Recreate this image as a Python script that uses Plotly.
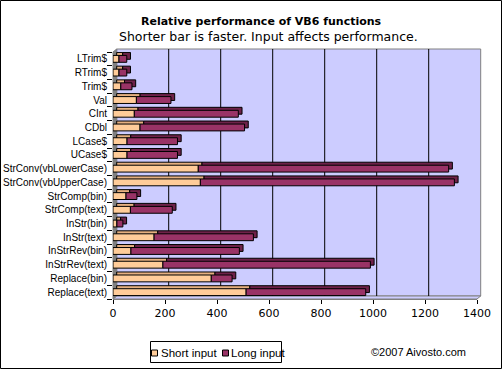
import plotly.graph_objects as go

# ---------------- data ----------------
categories = ["LTrim$", "RTrim$", "Trim$", "Val", "CInt", "CDbl", "LCase$", "UCase$",
              "StrConv(vbLowerCase)", "StrConv(vbUpperCase)", "StrComp(bin)", "StrComp(text)",
              "InStr(bin)", "InStr(text)", "InStrRev(bin)", "InStrRev(text)",
              "Replace(bin)", "Replace(text)"]
short_input = [23, 23, 30, 90, 82, 104, 54, 54, 328, 336, 50, 67, 15, 158, 69, 192, 378, 512]
long_input = [30, 30, 43, 133, 400, 402, 194, 194, 963, 977, 42, 161, 23, 382, 417, 798, 80, 460]
x_ticks = [0, 200, 400, 600, 800, 1000, 1200, 1400]

title_text = "<b>Relative performance of VB6 functions</b>"
subtitle_text = "Shorter bar is faster. Input affects performance."
series_names = ["Short input", "Long input"]
credit_text = "©2007 Aivosto.com"

# ---------------- style ----------------
W, H = 502, 369
PL, PR, PT, PB = 113, 477, 52, 299          # front plot area in pixels
DEPTH_X, DEPTH_Y = 3.7, 3.0                  # 3-D depth offset in pixels
SHORT_C, LONG_C = "#FFCC99", "#993366"
SHORT_D, LONG_D = "#E6B080", "#6E2249"
WALL_C, SIDE_C, EDGE_C = "#CCCCFF", "#808080", "#808080"
LABEL_FONT = "Liberation Sans, Arial, sans-serif"
XMAX = x_ticks[-1]
N = len(categories)

def px2paper_x(p):
    return (p - PL) / (PR - PL)

def px2paper_y(p):
    return (PB - p) / (PB - PT)

def data2px_x(v):
    return PL + v / XMAX * (PR - PL)

dx_data = DEPTH_X / (PR - PL) * XMAX
dy_cat = DEPTH_Y / ((PB - PT) / N)

idx = list(range(N))

fig = go.Figure()
line_black = dict(color="black", width=1)

# depth (top / end faces)
fig.add_trace(go.Bar(y=[i - dy_cat for i in idx], x=short_input, base=[dx_data] * N,
                     orientation="h", width=0.5, marker=dict(color=SHORT_D, line=line_black),
                     showlegend=False, hoverinfo="skip"))
fig.add_trace(go.Bar(y=[i - dy_cat for i in idx], x=long_input,
                     base=[s + dx_data for s in short_input],
                     orientation="h", width=0.5, marker=dict(color=LONG_D, line=line_black),
                     showlegend=False, hoverinfo="skip"))
# front faces
fig.add_trace(go.Bar(y=idx, x=short_input, base=[0] * N, orientation="h", width=0.5,
                     name=series_names[0], marker=dict(color=SHORT_C, line=line_black),
                     showlegend=False))
fig.add_trace(go.Bar(y=idx, x=long_input, base=short_input, orientation="h", width=0.5,
                     name=series_names[1], marker=dict(color=LONG_C, line=line_black),
                     showlegend=False))

shapes = []
wall_top, wall_bot = PT - DEPTH_Y, PB - DEPTH_Y
wall_l, wall_r = PL + DEPTH_X, PR + DEPTH_X
# back wall
shapes.append(dict(type="rect", xref="paper", yref="paper", layer="below",
                   x0=px2paper_x(wall_l), x1=px2paper_x(wall_r),
                   y0=px2paper_y(wall_bot), y1=px2paper_y(wall_top),
                   fillcolor=WALL_C, line=dict(color=EDGE_C, width=1)))
# floor
def path(pts):
    return "M " + " L ".join(f"{px2paper_x(a):.5f},{px2paper_y(b):.5f}" for a, b in pts) + " Z"
shapes.append(dict(type="path", xref="paper", yref="paper", layer="below",
                   path=path([(PL, PB), (wall_l, wall_bot), (wall_r, wall_bot), (PR, PB)]),
                   fillcolor=WALL_C, line=dict(color=EDGE_C, width=1)))
# left side wall
shapes.append(dict(type="path", xref="paper", yref="paper", layer="below",
                   path=path([(PL, PB), (PL, PT), (wall_l, wall_top), (wall_l, wall_bot)]),
                   fillcolor=SIDE_C, line=dict(color=SIDE_C, width=1)))
# gridlines on back wall
for v in x_ticks[1:-1]:
    xp = px2paper_x(data2px_x(v) + DEPTH_X)
    shapes.append(dict(type="line", xref="paper", yref="paper", layer="below",
                       x0=xp, x1=xp, y0=px2paper_y(wall_bot), y1=px2paper_y(wall_top),
                       line=dict(color="black", width=1)))
# outer chart border
shapes.append(dict(type="rect", xref="paper", yref="paper",
                   x0=px2paper_x(0.5), x1=px2paper_x(W - 0.5),
                   y0=px2paper_y(H - 0.5), y1=px2paper_y(0.5),
                   line=dict(color="black", width=1)))
# legend box and swatches
shapes.append(dict(type="rect", xref="paper", yref="paper",
                   x0=px2paper_x(150.5), x1=px2paper_x(281.5),
                   y0=px2paper_y(362.5), y1=px2paper_y(341.5),
                   line=dict(color="black", width=1), fillcolor="white"))
for x0, col in [(151.5, SHORT_C), (222.5, LONG_C)]:
    shapes.append(dict(type="rect", xref="paper", yref="paper",
                       x0=px2paper_x(x0), x1=px2paper_x(x0 + 6),
                       y0=px2paper_y(356), y1=px2paper_y(350),
                       line=dict(color="black", width=1), fillcolor=col))

annotations = [
    dict(text=title_text, xref="paper", yref="paper", x=px2paper_x(261), y=px2paper_y(21),
         xanchor="center", yanchor="middle", showarrow=False,
         font=dict(family="DejaVu Sans", size=11, color="black")),
    dict(text=subtitle_text, xref="paper", yref="paper", x=px2paper_x(268), y=px2paper_y(36),
         xanchor="center", yanchor="middle", showarrow=False,
         font=dict(family="DejaVu Sans", size=12.5, color="black")),
    dict(text=series_names[0], xref="paper", yref="paper", x=px2paper_x(158.5), y=px2paper_y(353),
         xanchor="left", yanchor="middle", showarrow=False,
         font=dict(family=LABEL_FONT, size=11.5, color="black")),
    dict(text=series_names[1], xref="paper", yref="paper", x=px2paper_x(229), y=px2paper_y(353),
         xanchor="left", yanchor="middle", showarrow=False,
         font=dict(family=LABEL_FONT, size=11.5, color="black")),
    dict(text=credit_text, xref="paper", yref="paper", x=px2paper_x(369), y=px2paper_y(352),
         xanchor="left", yanchor="middle", showarrow=False,
         font=dict(family=LABEL_FONT, size=11, color="black")),
]

fig.update_layout(
    template="none",
    width=W, height=H,
    margin=dict(l=PL, r=W - PR, t=PT, b=H - PB, pad=0),
    paper_bgcolor="white", plot_bgcolor="rgba(0,0,0,0)",
    barmode="overlay", showlegend=False,
    shapes=shapes, annotations=annotations,
    xaxis=dict(range=[0, XMAX], tickvals=x_ticks, ticktext=[str(t) for t in x_ticks],
               automargin=False,
               showgrid=False, zeroline=False, showline=True, linecolor=EDGE_C, linewidth=1,
               ticks="outside", ticklen=4, tickcolor="black",
               tickfont=dict(family="DejaVu Sans", size=11, color="black"), fixedrange=True),
    yaxis=dict(range=[N - 0.5, -0.5], tickvals=idx, ticktext=categories,
               automargin=False,
               showgrid=False, zeroline=False, showline=False,
               ticks="outside", ticklen=3, tickcolor="rgba(0,0,0,0)",
               minor=dict(tickvals=[i - 0.5 for i in range(N + 1)], ticks="outside",
                          ticklen=5, tickcolor="black", showgrid=False),
               tickfont=dict(family=LABEL_FONT, size=10, color="black"), fixedrange=True),
)

fig.write_html("out.html", config={"displayModeBar": False},
               post_script="document.body.style.margin='0';document.body.style.overflow='hidden';")
